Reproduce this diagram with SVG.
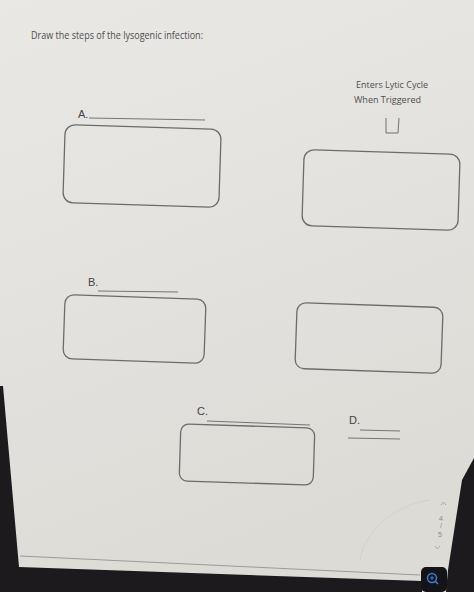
<svg xmlns="http://www.w3.org/2000/svg" width="474" height="592" viewBox="0 0 474 592">
<defs>
<linearGradient id="paper" x1="0" y1="0" x2="0.3" y2="1">
<stop offset="0" stop-color="#e9e8e5"/>
<stop offset="0.5" stop-color="#e3e2de"/>
<stop offset="1" stop-color="#dcdbd6"/>
</linearGradient>
<style>
.box{fill:none;stroke:#6c6c6c;stroke-width:1.3}
.rule{stroke:#757575;stroke-width:1}
.lbl{font-family:"Liberation Sans",Arial,sans-serif;font-size:11px;fill:#444}
.cal{font-family:"Open Sans","Liberation Sans",sans-serif;fill:#4e4e4e}
.nav{font-family:"Liberation Sans",Arial,sans-serif;font-size:7px;fill:#8a8a8a}
</style>
</defs>
<rect width="474" height="592" fill="url(#paper)"/>
<!-- photo frame -->
<polygon points="0,386 3,386 19,567 422,581 422,592 0,592" fill="#1c1a1c"/>
<polygon points="474,458 474,592 446,592 448,570 462,480" fill="#1c1a1c"/>
<line x1="20" y1="556" x2="420" y2="575" stroke="#9a9a98" stroke-width="1"/>
<path d="M 360,560 C 365,530 395,505 430,500" fill="none" stroke="#cfcecb" stroke-width="0.8"/>
<rect x="421" y="567" width="26" height="25" rx="5" fill="#141418"/>
<circle cx="432" cy="578" r="4.5" fill="none" stroke="#3b7fd8" stroke-width="1.5"/>
<line x1="435" y1="581" x2="438" y2="584" stroke="#3b7fd8" stroke-width="1.5"/>
<line x1="430" y1="578" x2="434" y2="578" stroke="#3b7fd8" stroke-width="1"/>
<line x1="432" y1="576" x2="432" y2="580" stroke="#3b7fd8" stroke-width="1"/>
<g id="page-nav">
<path d="M 441,505 L 443.5,502 L 446,505" fill="none" stroke="#9a9a9a" stroke-width="0.8"/>
<text class="nav" x="439" y="521">4</text>
<text class="nav" x="440" y="528">/</text>
<text class="nav" x="438" y="537">5</text>
<path d="M 435,546 L 437.5,549 L 440,546" fill="none" stroke="#9a9a9a" stroke-width="0.8"/>
</g>
<g id="title">
<text class="cal" x="31" y="39" font-size="10" textLength="172" lengthAdjust="spacingAndGlyphs">Draw the steps of the lysogenic infection:</text>
</g>
<g id="lytic-label">
<text class="cal" x="356" y="88" font-size="9.5" textLength="72" lengthAdjust="spacingAndGlyphs">Enters Lytic Cycle</text>
<text class="cal" x="354" y="103" font-size="9.5" textLength="67" lengthAdjust="spacingAndGlyphs">When Triggered</text>
<path d="M 386,118 L 386,133 L 398,133 L 399,118" fill="none" stroke="#707070" stroke-width="1"/>
</g>
<g id="node-A">
<text class="lbl" x="78" y="118">A.</text>
<line class="rule" x1="89" y1="118" x2="205" y2="120"/>
<rect class="box" x="64" y="127" width="156" height="78" rx="10" transform="rotate(1.8 142 166)"/>
</g>
<g id="node-lytic">
<rect class="box" x="303" y="152" width="156" height="76" rx="10" transform="rotate(1.8 381 190)"/>
</g>
<g id="node-B">
<text class="lbl" x="88" y="286">B.</text>
<line class="rule" x1="98" y1="291" x2="178" y2="292"/>
<rect class="box" x="64" y="297" width="141" height="64" rx="9" transform="rotate(2 134 329)"/>
</g>
<g id="node-right-mid">
<rect class="box" x="296" y="305" width="146" height="66" rx="9" transform="rotate(2 369 338)"/>
</g>
<g id="node-C">
<text class="lbl" x="197" y="415" font-size="10">C.</text>
<line class="rule" x1="207" y1="421" x2="310" y2="425"/>
<rect class="box" x="180" y="426" width="134" height="57" rx="8" transform="rotate(1.8 247 454)"/>
</g>
<g id="node-D">
<text class="lbl" x="349" y="424">D.</text>
<line class="rule" x1="360" y1="430" x2="400" y2="431"/>
<line class="rule" x1="348" y1="438" x2="400" y2="439"/>
</g>
<g id="connectors"/>
</svg>
